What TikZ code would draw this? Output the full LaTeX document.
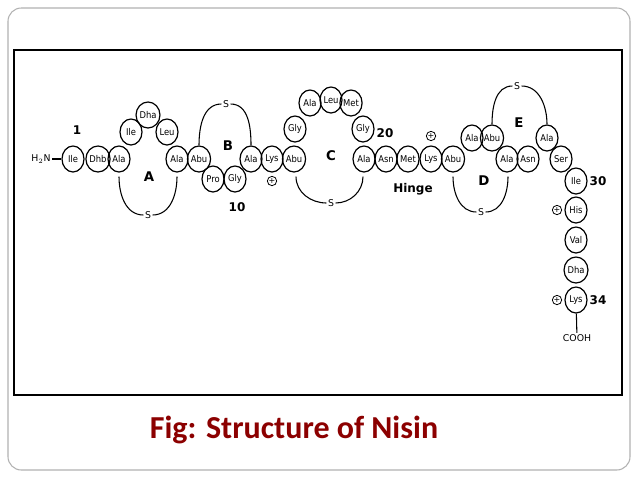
\documentclass[tikz,border=0pt]{standalone}
\usepackage{fontspec}
\setmainfont{DejaVu Sans}
\newfontfamily\condfont{DejaVu Sans Condensed}
\newfontfamily\titlefont{Carlito}
\usetikzlibrary{shapes.geometric,calc}
\begin{document}
\begin{tikzpicture}[x=0.75pt,y=-0.75pt,
 aa/.style={ellipse,draw,line width=0.9pt,minimum width=16.5pt,minimum height=19.5pt,inner sep=0pt,font=\condfont\fontsize{7}{7}\selectfont},
 pl/.style={circle,draw,line width=0.6pt,inner sep=0pt,minimum size=7pt,font=\fontsize{6}{6}\selectfont},
 lab/.style={font=\fontsize{9}{9}\selectfont\bfseries},
 ss/.style={font=\fontsize{7}{7}\selectfont,inner sep=1pt},
 br/.style={line width=0.8pt}]
\useasboundingbox (0,0) rectangle (638,479);
\fill[white] (0,0) rectangle (638,479);
\draw[gray!60,line width=0.8pt,rounded corners=10pt] (8,8) rectangle (630,470);
\draw[line width=1.5pt] (14,50) rectangle (622,395);
\node[font=\titlefont\bfseries\fontsize{24}{24}\selectfont,text=red!55!black] (t) at (294,430) {Fig: Structure of Nisin};
% residues
\node[aa] (r1) at (73,159) {Ile};
\node[aa] (r2) at (98,159) {Dhb};
\node[aa] (r3) at (119,159) {Ala};
\node[aa] (r4) at (131,132) {Ile};
\node[aa] (r5) at (148,115) {Dha};
\node[aa] (r6) at (167,132) {Leu};
\node[aa] (r7) at (177,159) {Ala};
\node[aa] (r8) at (199,159) {Abu};
\node[aa] (r9) at (213,179) {Pro};
\node[aa] (r10) at (235,179) {Gly};
\node[aa] (r11) at (251,159) {Ala};
\node[aa] (r12) at (272,159) {Lys};
\node[aa] (r13) at (294,159) {Abu};
\node[aa] (r14) at (295,129) {Gly};
\node[aa] (r15) at (310,103) {Ala};
\node[aa] (r16) at (331,100) {Leu};
\node[aa] (r17) at (351,103) {Met};
\node[aa] (r18) at (363,129) {Gly};
\node[aa] (r19) at (364,159) {Ala};
\node[aa] (r20) at (386,159) {Asn};
\node[aa] (r21) at (408,159) {Met};
\node[aa] (r22) at (431,159) {Lys};
\node[aa] (r23) at (453,159) {Abu};
\node[aa] (r24) at (472,138) {Ala};
\node[aa] (r25) at (492,138) {Abu};
\node[aa] (r26) at (507,159) {Ala};
\node[aa] (r27) at (528,159) {Asn};
\node[aa] (r28) at (547,138) {Ala};
\node[aa] (r29) at (561,159) {Ser};
\node[aa] (r30) at (576,181) {Ile};
\node[aa] (r31) at (576,210) {His};
\node[aa] (r32) at (576,240) {Val};
\node[aa] (r33) at (576,270) {Dha};
\node[aa] (r34) at (576,300) {Lys};
% charges
\node[pl] (p1) at (272,181) {+};
\node[pl] (p2) at (431,136) {+};
\node[pl] (p3) at (557,210) {+};
\node[pl] (p4) at (557,300) {+};
% termini
\node[ss] (n) at (41,159) {H$_2$N};
\draw[br] (n) -- (r1);
\node[ss] (c) at (577,338) {COOH};
\draw[br] (r34) -- (c);
% labels
\node[lab] (l1) at (77,130) {1};
\node[lab] (l10) at (237,207) {10};
\node[lab] (l20) at (385,133) {20};
\node[lab] (l30) at (598,181) {30};
\node[lab] (l34) at (598,300) {34};
\node[lab,font=\fontsize{10}{10}\selectfont\bfseries] (la) at (149,177) {A};
\node[lab,font=\fontsize{10}{10}\selectfont\bfseries] (lb) at (228,146) {B};
\node[lab,font=\fontsize{10}{10}\selectfont\bfseries] (lc) at (331,156) {C};
\node[lab,font=\fontsize{10}{10}\selectfont\bfseries] (ld) at (484,181) {D};
\node[lab,font=\fontsize{10}{10}\selectfont\bfseries] (le) at (519,123) {E};
\node[lab] (lh) at (413,189) {Hinge};
% bridges
\node[ss] (sa) at (148,215) {S};
\draw[br] ($(r3.south)+(0,4)$) to[out=-90,in=180] (sa.west);
\draw[br] (sa.east) to[out=0,in=-90] ($(r7.south)+(0,4)$);
\node[ss] (sb) at (226,104) {S};
\draw[br] (r8.north) to[out=90,in=180] (sb.west);
\draw[br] (sb.east) to[out=0,in=90] (r11.north);
\node[ss] (sc) at (331,203) {S};
\draw[br] ($(r13.south)+(2,4)$) to[out=-90,in=180] (sc.west);
\draw[br] (sc.east) to[out=0,in=-90] ($(r19.south)+(-1,4)$);
\node[ss] (sd) at (481,212) {S};
\draw[br] ($(r23.south)+(0,4)$) to[out=-90,in=180] (sd.west);
\draw[br] (sd.east) to[out=0,in=-90] ($(r26.south)+(1,4)$);
\node[ss] (se) at (517,86) {S};
\draw[br] (r25.north) to[out=90,in=180] (se.west);
\draw[br] (se.east) to[out=0,in=90] (r28.north);
\end{tikzpicture}
\end{document}
